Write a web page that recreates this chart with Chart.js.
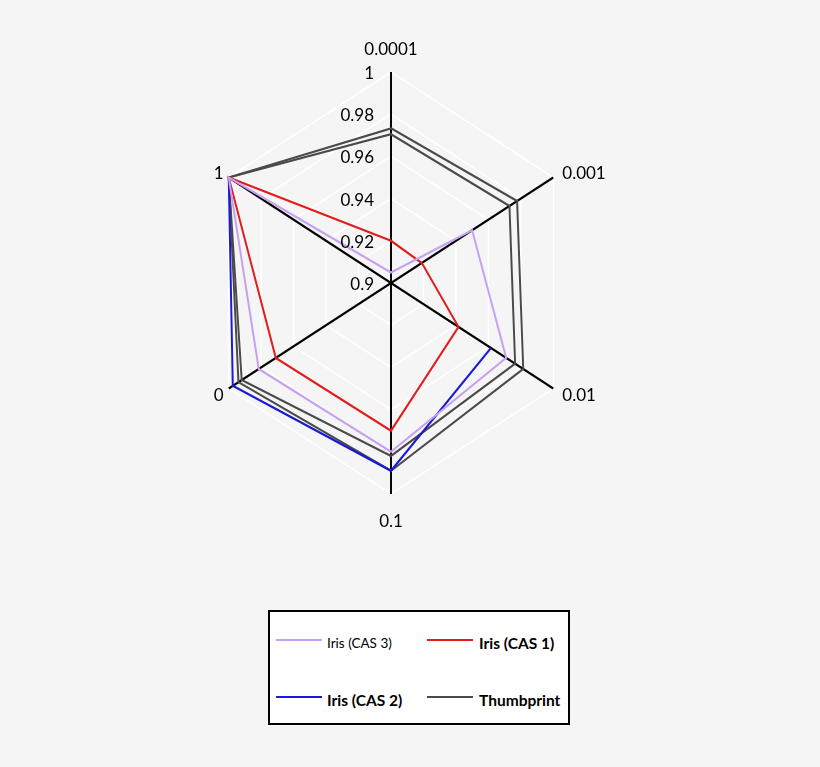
<!DOCTYPE html>
<html>
<head>
<meta charset="utf-8">
<script src="https://cdn.jsdelivr.net/npm/chart.js@4.4.1/dist/chart.umd.min.js"></script>
<style>
    html, body { margin: 0; padding: 0; background: #f5f5f5; }
    #wrap { position: absolute; left: 0; top: 0; width: 820px; height: 767px; }
    #legend {
        position: absolute; left: 268px; top: 610px; width: 298px; height: 111px;
        background: #fff; border: 2px solid #000; font-family: Lato, "Open Sans", sans-serif; color: #000;
    }
    #legend .swatch { position: absolute; width: 46px; height: 2px; }
    #legend .txt { position: absolute; white-space: nowrap; transform: translateY(-50%); }
</style>
</head>
<body>
<div id="wrap"><canvas id="radarChart"></canvas></div>
<div id="legend"></div>
<script>
// axis categories, clockwise from the top
var categories = ['0.0001', '0.001', '0.01', '0.1', '0', '1'];

// radial tick values and their labels
var tickValues = [0.9, 0.92, 0.94, 0.96, 0.98, 1];
var tickLabels = ['0.9', '0.92', '0.94', '0.96', '0.98', '1'];

// series values (null = no point)
var irisCas3 = [0.905, 0.950, 0.971, 0.980, 0.9815, 1.0];
var irisCas1 = [0.920, 0.919, 0.9416, 0.970, 0.971, 1.0];
var irisCas2 = [null, null, 0.9616, 0.989, 0.9975, 1.0];
var thumbprint = [0.9733, 0.9777, 0.9815, 0.989, 0.994, 1.0];
var thumbprint2 = [0.9705, 0.973, 0.9765, 0.982, 0.992, 1.0];

var seriesNames = ['Iris (CAS 3)', 'Iris (CAS 1)', 'Iris (CAS 2)', 'Thumbprint', 'Thumbprint 2'];
var seriesColors = ['#c6a0f2', '#e41b1b', '#1a1ad6', '#4a4a4a', '#4a4a4a'];

// horizontal squeeze of the whole plot (the original is narrower than tall)
var squeeze = 0.888;

var squeezePlugin = {
    id: 'squeeze',
    beforeDraw: function(chart) {
        var ctx = chart.ctx;
        var cx = chart.scales.r.xCenter;
        ctx.save();
        ctx.translate(cx, 0);
        ctx.scale(squeeze, 1);
        ctx.translate(-cx, 0);
    },
    afterDraw: function(chart) {
        var ctx = chart.ctx;
        var r = chart.scales.r;
        ctx.restore();

        ctx.save();
        ctx.fillStyle = '#000';
        ctx.font = '17px Lato';
        ctx.textBaseline = 'middle';

        // tick labels, left of the vertical axis
        ctx.textAlign = 'right';
        tickValues.forEach(function(v, i) {
            var y = r.yCenter - r.getDistanceFromCenterForValue(v);
            ctx.fillText(tickLabels[i], r.xCenter - 17, y + 1.5);
        });

        // category labels around the outside
        categories.forEach(function(label, i) {
            var p = r.getPointPosition(i, r.drawingArea);
            var x = r.xCenter + (p.x - r.xCenter) * squeeze;
            var y = p.y + 1.5;
            var a = r.getIndexAngle(i);
            var s = Math.sin(a), c = Math.cos(a);
            if (Math.abs(s) < 0.1) {
                ctx.textAlign = 'center';
                y += c > 0 ? -24 : 26;
            } else {
                ctx.textAlign = s > 0 ? 'left' : 'right';
                x += s > 0 ? 9 : -5;
                y += c > 0 ? -5 : 6;
            }
            ctx.fillText(label, x, y);
        });
        ctx.restore();
    }
};

var allSeries = [irisCas3, irisCas1, irisCas2, thumbprint, thumbprint2];

var ctx = document.getElementById('radarChart').getContext('2d');
var myChart = new Chart(ctx, {
    type: 'radar',
    data: {
        labels: categories,
        datasets: allSeries.map(function(values, i) {
            return {
                label: seriesNames[i],
                data: values,
                borderColor: seriesColors[i],
                backgroundColor: 'transparent',
                borderWidth: 2.2,
                pointRadius: 0,
                pointHoverRadius: 0,
                fill: false,
                spanGaps: false,
                tension: 0
            };
        })
    },
    options: {
        responsive: true,
        maintainAspectRatio: false,
        animation: false,
        layout: { padding: { left: 180, right: 218, top: 72, bottom: 273 } },
        plugins: { legend: { display: false }, tooltip: { enabled: false } },
        scales: {
            r: {
                min: 0.9,
                max: 1,
                ticks: { display: false, stepSize: 0.02 },
                grid: { color: '#ffffff', lineWidth: 1.5 },
                angleLines: { color: '#000000', lineWidth: 2.2 },
                pointLabels: { display: false }
            }
        }
    },
    plugins: [squeezePlugin]
});

// legend box, 2 x 2, built from the series (the second gray line is not listed)
var legendBold = [false, true, true, true];
var legend = document.getElementById('legend');
for (var i = 0; i < 4; i++) {
    var col = i % 2, row = Math.floor(i / 2);
    var sw = document.createElement('div');
    sw.className = 'swatch';
    sw.style.background = seriesColors[i];
    sw.style.left = (6 + col * 151) + 'px';
    sw.style.top = (27 + row * 57) + 'px';
    legend.appendChild(sw);
    var t = document.createElement('div');
    t.className = 'txt';
    t.textContent = seriesNames[i];
    t.style.left = (57 + col * 152) + 'px';
    t.style.top = (31 + row * 57) + 'px';
    t.style.fontWeight = legendBold[i] ? 'bold' : 'normal';
    t.style.fontSize = legendBold[i] ? '15.5px' : '13.5px';
    legend.appendChild(t);
}
</script>
</body>
</html>
